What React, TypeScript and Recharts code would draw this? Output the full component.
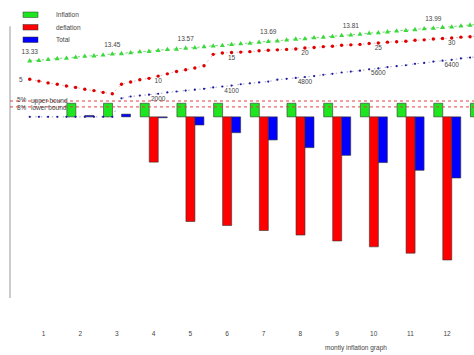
import React from "react";
import {
  ComposedChart,
  Bar,
  Line,
  XAxis,
  YAxis,
  ReferenceLine,
  LabelList,
} from "recharts";

// monthly bars
const months = [1, 2, 3, 4, 5, 6, 7, 8, 9, 10, 11, 12, 13];
const monthTicks = [1, 2, 3, 4, 5, 6, 7, 8, 9, 10, 11, 12];
const inflationBars = [0, 3, 3, 3, 3, 3, 3, 3, 3, 3, 3, 3, 3];
const deflationBars = [0, 0, 0, -10, -23.1, -24, -25.1, -26.1, -27.4, -28.7, -30.1, -31.6, -33];
const totalBars = [0, 0.3, 0.6, -0.2, -1.8, -3.5, -5.1, -6.8, -8.5, -10.1, -11.8, -13.5, -15.2];

// trend lines, one point every quarter month
const lineX = [
  0.625, 0.875, 1.125, 1.375, 1.625, 1.875, 2.125, 2.375, 2.625, 2.875,
  3.125, 3.375, 3.625, 3.875, 4.125, 4.375, 4.625, 4.875, 5.125, 5.375,
  5.625, 5.875, 6.125, 6.375, 6.625, 6.875, 7.125, 7.375, 7.625, 7.875,
  8.125, 8.375, 8.625, 8.875, 9.125, 9.375, 9.625, 9.875, 10.125, 10.375,
  10.625, 10.875, 11.125, 11.375, 11.625, 11.875, 12.125, 12.375, 12.625, 12.875,
];
const inflationLine = [
  12.4, 12.5, 12.7, 12.9, 13.0, 13.2, 13.4, 13.5, 13.7, 13.9,
  14.0, 14.2, 14.4, 14.5, 14.7, 14.9, 15.0, 15.2, 15.3, 15.5,
  15.7, 15.8, 16.0, 16.2, 16.3, 16.5, 16.7, 16.8, 17.0, 17.2,
  17.3, 17.5, 17.6, 17.8, 18.0, 18.1, 18.3, 18.5, 18.6, 18.8,
  19.0, 19.1, 19.3, 19.5, 19.6, 19.8, 19.9, 20.1, 20.3, 20.4,
];
const deflationLine = [
  8.3, 7.9, 7.5, 7.2, 6.8, 6.5, 6.1, 5.8, 5.4, 5.1,
  7.2, 7.7, 8.2, 8.5, 9.0, 9.5, 10.0, 10.4, 10.8, 11.3,
  13.8, 14.1, 14.2, 14.3, 14.4, 14.6, 14.7, 14.8, 14.9, 15.0,
  15.2, 15.3, 15.5, 15.6, 15.8, 15.9, 16.0, 16.2, 16.3, 16.5,
  16.6, 16.7, 16.9, 17.0, 17.2, 17.3, 17.4, 17.6, 17.7, 17.9,
];
const totalLine = [
  0, 0, 0, 0, 0, 0, 0, 0, 0, 0,
  4.1, 4.5, 4.7, 4.9, 5.1, 5.4, 5.6, 5.8, 6.0, 6.2,
  6.5, 6.7, 6.9, 7.2, 7.4, 7.6, 7.8, 8.2, 8.4, 8.6,
  8.8, 9.0, 9.3, 9.5, 9.8, 10.0, 10.2, 10.5, 10.7, 11.0,
  11.2, 11.4, 11.7, 11.9, 12.2, 12.4, 12.6, 12.9, 13.1, 13.4,
];
const inflationLabels: Record<number, string> = { 0: "13.33", 9: "13.45", 17: "13.57", 26: "13.69", 35: "13.81", 44: "13.99" };
const deflationLabels: Record<number, string> = { 0: "5", 14: "10", 22: "15", 30: "20", 38: "25", 46: "30" };
const totalLabels: Record<number, string> = { 14: "2000", 22: "4100", 30: "4800", 38: "5600", 46: "6400" };

const legendItems = [
  { name: "Inflation", color: "#1ee61e" },
  { name: "deflation", color: "#ff0000" },
  { name: "Total", color: "#0000ff" },
];

const barData = months.map((m, i) => ({
  month: m,
  inflation: inflationBars[i],
  deflation: deflationBars[i],
  total: totalBars[i],
}));

const lineData = lineX.map((x, i) => ({
  x,
  inflation: inflationLine[i],
  deflation: deflationLine[i],
  total: totalLine[i],
  gLabel: inflationLabels[i] || "",
  rLabel: deflationLabels[i] || "",
  bLabel: totalLabels[i] || "",
}));

const FONT = "'Liberation Sans', Arial, sans-serif";
const DOMAIN: [number, number] = [0.087, 13.087];

const Triangle = (p: any) => {
  const { cx, cy, index } = p;
  if (cx == null || cy == null) return <g key={index} />;
  return (
    <path
      key={index}
      d={`M${cx},${cy - 2.6}L${cx + 2.5},${cy + 1.7}L${cx - 2.5},${cy + 1.7}Z`}
      fill="#3ad83a"
    />
  );
};

const pointLabel = (dy: number, first?: boolean) => (p: any) => {
  const { x, y, value, index } = p;
  if (!value) return null;
  const left = first && index === 0;
  return (
    <text
      key={index}
      x={left ? x - 7 : x}
      y={left ? y + 2.5 : y + dy}
      textAnchor={left ? "end" : "middle"}
      fontSize={6.5}
      fontFamily={FONT}
      fill="#444"
    >
      {value}
    </text>
  );
};

export default function App() {
  return (
    <div style={{ position: "absolute", left: 0, top: 0, width: 474, height: 355, overflow: "hidden", background: "#fff" }}>
      <ComposedChart
        width={487}
        height={355}
        data={barData}
        barGap={0}
        margin={{ top: 5, right: 0, bottom: 0, left: 0 }}
      >
        <XAxis
          xAxisId="bars"
          type="number"
          dataKey="month"
          domain={DOMAIN}
          ticks={monthTicks}
          allowDataOverflow
          axisLine={false}
          tickLine={false}
          height={57}
          tickMargin={27}
          tick={{ fontSize: 6.5, fill: "#444", fontFamily: FONT }}
          label={{
            content: () => (
              <text x={356} y={350} textAnchor="middle" fontSize={6.5} fontFamily={FONT} fill="#444">
                montly inflation graph
              </text>
            ),
          }}
        />
        <XAxis xAxisId="lines" type="number" dataKey="x" domain={DOMAIN} hide />
        <YAxis
          yAxisId="v"
          type="number"
          domain={[-40, 24.7]}
          ticks={[-40, -30, -20, -10, 0, 10, 20]}
          width={10}
          tickSize={10}
          axisLine={false}
          tick={false}
          tickLine={{ stroke: "#999" }}
        />
        <ReferenceLine
          xAxisId="bars"
          yAxisId="v"
          segment={[{ x: DOMAIN[0], y: 20 }, { x: DOMAIN[0], y: -40 }]}
          stroke="#999"
          ifOverflow="visible"
        />
        <Bar xAxisId="bars" yAxisId="v" dataKey="inflation" fill="#1ee61e" stroke="#333" strokeWidth={0.6} barSize={9} isAnimationActive={false} />
        <Bar xAxisId="bars" yAxisId="v" dataKey="deflation" fill="#ff0000" stroke="#333" strokeWidth={0.6} barSize={9} isAnimationActive={false} />
        <Bar xAxisId="bars" yAxisId="v" dataKey="total" fill="#0000ff" stroke="#333" strokeWidth={0.6} barSize={9} isAnimationActive={false} />
        <ReferenceLine
          xAxisId="bars"
          yAxisId="v"
          y={3.5}
          stroke="#e04040"
          strokeDasharray="3 3"
          label={{
            content: (p: any) => (
              <g fontSize={6.5} fontFamily={FONT} fill="#444">
                <text x={17} y={p.viewBox.y + 1}>5%</text>
                <text x={31} y={p.viewBox.y + 1.5}>upper bound</text>
              </g>
            ),
          }}
        />
        <ReferenceLine
          xAxisId="bars"
          yAxisId="v"
          y={2.2}
          stroke="#e04040"
          strokeDasharray="3 3"
          label={{
            content: (p: any) => (
              <g fontSize={6.5} fontFamily={FONT} fill="#444">
                <text x={17} y={p.viewBox.y + 3}>8%</text>
                <text x={31} y={p.viewBox.y + 3.5}>lower bound</text>
              </g>
            ),
          }}
        />
        <Line
          xAxisId="lines"
          yAxisId="v"
          data={lineData}
          dataKey="total"
          stroke="#6060b0"
          strokeWidth={0.6}
          strokeDasharray="1.5 4"
          dot={{ r: 1.1, fill: "#1a1a9a", stroke: "none" }}
          isAnimationActive={false}
        >
          <LabelList dataKey="bLabel" content={pointLabel(7)} />
        </Line>
        <Line
          xAxisId="lines"
          yAxisId="v"
          data={lineData}
          dataKey="deflation"
          stroke="#d87070"
          strokeWidth={0.6}
          strokeDasharray="1.5 4"
          dot={{ r: 1.7, fill: "#e00000", stroke: "none" }}
          isAnimationActive={false}
        >
          <LabelList dataKey="rLabel" content={pointLabel(7, true)} />
        </Line>
        <Line
          xAxisId="lines"
          yAxisId="v"
          data={lineData}
          dataKey="inflation"
          stroke="#50d050"
          strokeWidth={0.8}
          strokeDasharray="2.5 3.5"
          dot={Triangle}
          isAnimationActive={false}
        >
          <LabelList dataKey="gLabel" content={pointLabel(-7)} />
        </Line>
      </ComposedChart>
      <svg style={{ position: "absolute", left: 0, top: 0 }} width={120} height={50}>
        {legendItems.map((it, i) => (
          <g key={it.name}>
            <rect x={23} y={12 + i * 12.5} width={15} height={5.5} fill={it.color} stroke="#333" strokeWidth={0.5} />
            <text x={56} y={17 + i * 12.5} fontSize={6.5} fontFamily={FONT} fill="#444">
              {it.name}
            </text>
          </g>
        ))}
      </svg>
    </div>
  );
}
